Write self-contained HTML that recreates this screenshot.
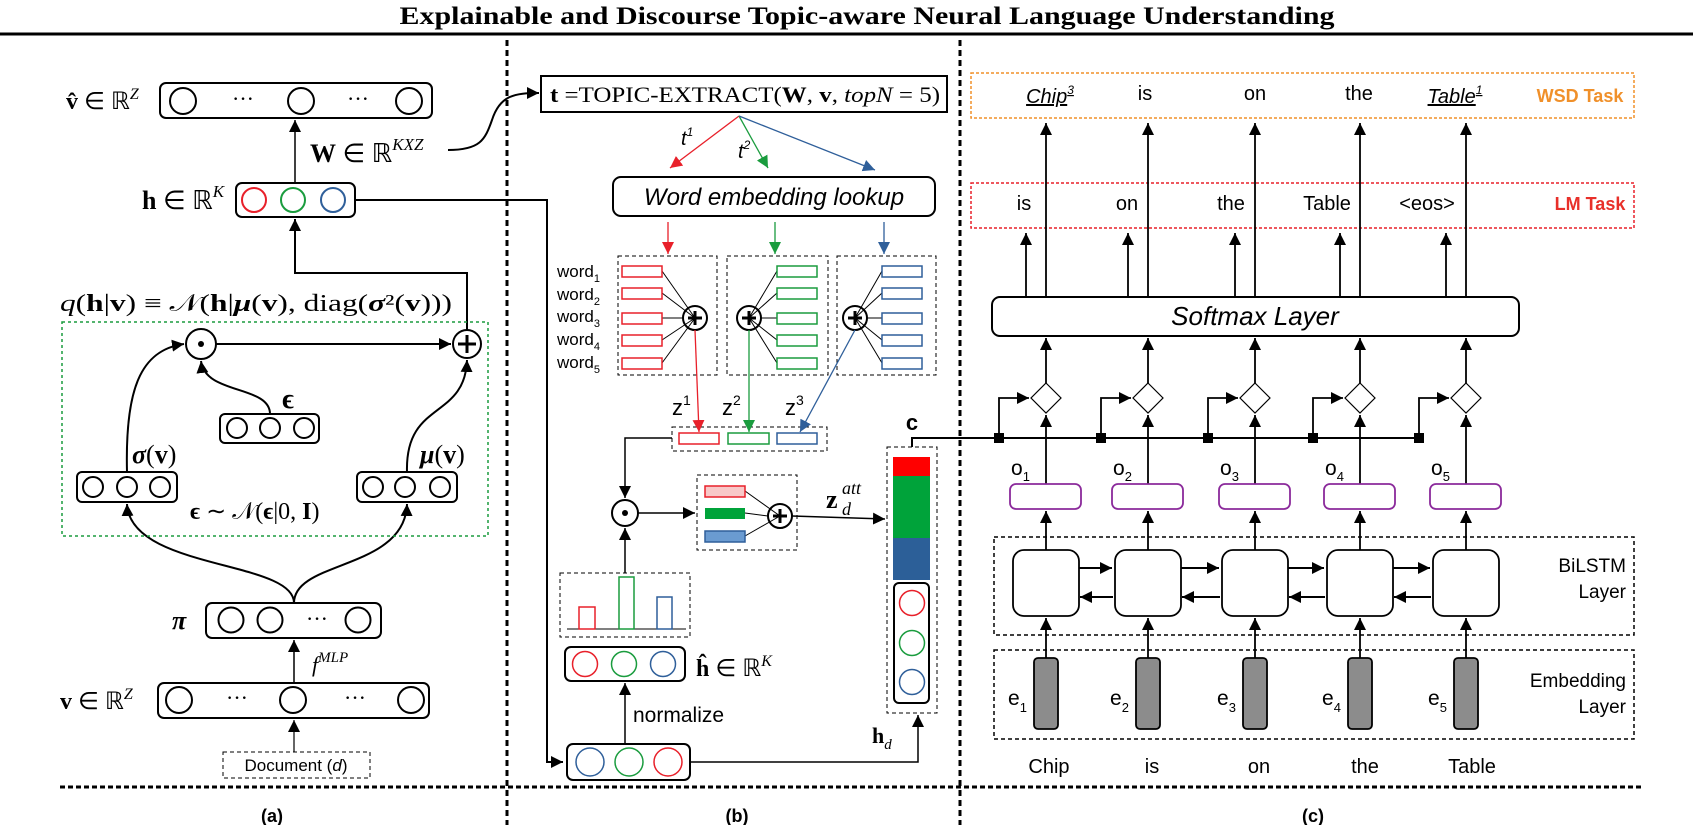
<!DOCTYPE html>
<html><head><meta charset="utf-8"><style>
html,body{margin:0;padding:0;background:#fff;}
svg{display:block;}
.s{font-family:"Liberation Sans",sans-serif;}
.r{font-family:"Liberation Serif",serif;}
</style></head><body>
<svg width="1693" height="825" viewBox="0 0 1693 825" xmlns="http://www.w3.org/2000/svg">
<defs>
<marker id="a" markerUnits="userSpaceOnUse" markerWidth="14" markerHeight="14" refX="12" refY="6" orient="auto"><path d="M0,0 L12,6 L0,12 z" fill="#000"/></marker>
<marker id="ar" markerUnits="userSpaceOnUse" markerWidth="14" markerHeight="14" refX="12" refY="6" orient="auto"><path d="M0,0 L12,6 L0,12 z" fill="#e8202a"/></marker>
<marker id="ag" markerUnits="userSpaceOnUse" markerWidth="14" markerHeight="14" refX="12" refY="6" orient="auto"><path d="M0,0 L12,6 L0,12 z" fill="#1a9c3e"/></marker>
<marker id="ab" markerUnits="userSpaceOnUse" markerWidth="14" markerHeight="14" refX="12" refY="6" orient="auto"><path d="M0,0 L12,6 L0,12 z" fill="#2f5f9a"/></marker>
</defs>

<text x="867" y="24" text-anchor="middle" class="r" font-weight="bold" font-size="25" textLength="935" lengthAdjust="spacingAndGlyphs">Explainable and Discourse Topic-aware Neural Language Understanding</text>
<line x1="0" y1="34" x2="1693" y2="34" stroke="#000" stroke-width="3"/>

<line x1="507" y1="40" x2="507" y2="825" stroke="#000" stroke-width="3" stroke-dasharray="6,4"/>
<line x1="960" y1="40" x2="960" y2="825" stroke="#000" stroke-width="3" stroke-dasharray="6,4"/>
<line x1="60" y1="787" x2="1642" y2="787" stroke="#000" stroke-width="3" stroke-dasharray="5,3"/>
<text x="272" y="822" text-anchor="middle" class="s" font-weight="bold" font-size="18">(a)</text>
<text x="737" y="822" text-anchor="middle" class="s" font-weight="bold" font-size="18">(b)</text>
<text x="1313" y="822" text-anchor="middle" class="s" font-weight="bold" font-size="18">(c)</text>

<g fill="none" stroke="#000" stroke-width="2">
<rect x="160" y="83" width="272" height="35" rx="6"/>
<circle cx="183" cy="101" r="13"/><circle cx="301" cy="101" r="13"/><circle cx="409" cy="101" r="13"/>
<rect x="236" y="183" width="119" height="34" rx="6"/>
<line x1="295" y1="183" x2="295" y2="120" stroke-width="1.5" marker-end="url(#a)"/>
<path d="M467,330 V273 H295 V219" marker-end="url(#a)"/>
<path d="M355,200 H547 V762 H563" marker-end="url(#a)"/>
<path d="M448,150 C480,150 485,140 492,120 C500,95 515,93 539,93" marker-end="url(#a)"/>
<circle cx="201" cy="344" r="15"/><circle cx="467" cy="344" r="14"/>
<line x1="216" y1="344" x2="451" y2="344" marker-end="url(#a)"/>
<rect x="220" y="414" width="99" height="29" rx="5"/>
<circle cx="237" cy="428" r="10"/><circle cx="270" cy="428" r="10"/><circle cx="304" cy="428" r="10"/>
<path d="M270,414 C270,385 205,395 201,361" marker-end="url(#a)"/>
<rect x="77" y="472" width="100" height="30" rx="5"/>
<circle cx="93" cy="487" r="10"/><circle cx="127" cy="487" r="10"/><circle cx="160" cy="487" r="10"/>
<path d="M127,472 C125,390 140,350 184,344" marker-end="url(#a)"/>
<rect x="357" y="472" width="100" height="30" rx="5"/>
<circle cx="373" cy="487" r="10"/><circle cx="405" cy="487" r="10"/><circle cx="440" cy="487" r="10"/>
<path d="M407,472 C405,400 465,420 467,360" marker-end="url(#a)"/>
<rect x="206" y="603" width="175" height="35" rx="6"/>
<circle cx="231" cy="620" r="12.5"/><circle cx="270" cy="620" r="12.5"/><circle cx="358" cy="620" r="12.5"/>
<path d="M294,603 C294,560 130,570 127,504" marker-end="url(#a)"/>
<path d="M294,603 C294,560 405,570 407,504" marker-end="url(#a)"/>
<rect x="158" y="683" width="271" height="35" rx="6"/>
<circle cx="179" cy="700" r="13"/><circle cx="293" cy="700" r="13"/><circle cx="411" cy="700" r="13"/>
<line x1="294" y1="683" x2="294" y2="640" stroke-width="1.5" marker-end="url(#a)"/>
<line x1="294" y1="752" x2="294" y2="720" stroke-width="1.2" marker-end="url(#a)"/>
<rect x="223" y="752" width="147" height="26" stroke-width="1" stroke-dasharray="4,3"/>
</g>
<rect x="62" y="322" width="426" height="214" fill="none" stroke="#1a9c3e" stroke-width="1.5" stroke-dasharray="3,3"/>
<circle cx="254" cy="200" r="12" fill="none" stroke="#e8202a" stroke-width="2"/>
<circle cx="293" cy="200" r="12" fill="none" stroke="#1a9c3e" stroke-width="2"/>
<circle cx="333" cy="200" r="12" fill="none" stroke="#2f5f9a" stroke-width="2"/>
<circle cx="201" cy="344" r="3" fill="#000"/>
<path d="M467,335 V353 M458,344 H476" stroke="#000" stroke-width="3"/>
<g font-size="22" class="r">
<text x="243" y="106" text-anchor="middle">···</text><text x="358" y="106" text-anchor="middle">···</text>
<text x="317" y="626" text-anchor="middle">···</text>
<text x="237" y="705" text-anchor="middle">···</text><text x="355" y="705" text-anchor="middle">···</text>
<text x="66" y="109" font-size="24"><tspan font-weight="bold">v̂</tspan> ∈ ℝ<tspan font-size="16" dy="-10" font-style="italic">Z</tspan></text>
<text x="310" y="162" font-size="26"><tspan font-weight="bold">W</tspan> ∈ ℝ<tspan font-size="17" dy="-12" font-style="italic">KXZ</tspan></text>
<text x="142" y="209" font-size="26"><tspan font-weight="bold">h</tspan> ∈ ℝ<tspan font-size="17" dy="-12" font-style="italic">K</tspan></text>
<text x="60" y="311" font-size="24" textLength="392" lengthAdjust="spacingAndGlyphs"><tspan font-style="italic">q</tspan>(<tspan font-weight="bold">h</tspan>|<tspan font-weight="bold">v</tspan>) ≡ 𝒩(<tspan font-weight="bold">h</tspan>|<tspan font-weight="bold" font-style="italic">μ</tspan>(<tspan font-weight="bold">v</tspan>), diag(<tspan font-weight="bold" font-style="italic">σ</tspan>²(<tspan font-weight="bold">v</tspan>)))</text>
<text x="288" y="408" text-anchor="middle" font-weight="bold" font-size="28">ϵ</text>
<text x="132" y="463" font-size="26"><tspan font-weight="bold" font-style="italic">σ</tspan>(<tspan font-weight="bold">v</tspan>)</text>
<text x="420" y="463" font-size="26"><tspan font-weight="bold" font-style="italic">μ</tspan>(<tspan font-weight="bold">v</tspan>)</text>
<text x="190" y="519" font-size="24"><tspan font-weight="bold">ϵ</tspan> ∼ 𝒩(<tspan font-weight="bold">ϵ</tspan>|0, <tspan font-weight="bold">I</tspan>)</text>
<text x="172" y="629" font-weight="bold" font-style="italic" font-size="26">π</text>
<text x="312" y="672" font-style="italic" font-size="22">f<tspan font-size="15" dy="-10">MLP</tspan></text>
<text x="60" y="709" font-size="24"><tspan font-weight="bold">v</tspan> ∈ ℝ<tspan font-size="16" dy="-10" font-style="italic">Z</tspan></text>
</g>
<text x="296" y="771" text-anchor="middle" class="s" font-size="17">Document (<tspan font-style="italic">d</tspan>)</text>

<g fill="none" stroke="#000" stroke-width="2">
<rect x="541" y="76" width="406" height="36"/>
<rect x="613" y="177" width="322" height="39" rx="8"/>
<g stroke-width="1" stroke-dasharray="4,3">
<rect x="618" y="256" width="99" height="119"/><rect x="727" y="256" width="101" height="119"/><rect x="837" y="256" width="99" height="119"/>
<rect x="672" y="427" width="155" height="24"/>
<rect x="560" y="573" width="130" height="64"/>
<rect x="697" y="475" width="100" height="75"/>
<rect x="887" y="447" width="50" height="266"/>
</g>
<circle cx="695" cy="318" r="12"/><circle cx="749" cy="318" r="12"/><circle cx="855" cy="318" r="12"/>
<circle cx="625" cy="513" r="13"/><circle cx="780" cy="516" r="12"/>
<path d="M672,438 H625 V498" stroke-width="1.5" marker-end="url(#a)"/>
<line x1="625" y1="573" x2="625" y2="528" stroke-width="1.5" marker-end="url(#a)"/>
<line x1="638" y1="513" x2="695" y2="513" stroke-width="1.5" marker-end="url(#a)"/>
<line x1="792" y1="516" x2="885" y2="519" stroke-width="1.5" marker-end="url(#a)"/>
<line x1="567" y1="629" x2="686" y2="629" stroke-width="1"/>
<rect x="565" y="647" width="120" height="34" rx="6"/>
<rect x="567" y="744" width="123" height="36" rx="6"/>
<line x1="625" y1="744" x2="625" y2="683" stroke-width="1.5" marker-end="url(#a)"/>
<path d="M690,762 H918 V715" stroke-width="1.5" marker-end="url(#a)"/>
<rect x="894" y="583" width="35" height="120" rx="5"/>
<path d="M912,447 V438 H1420" stroke-width="2"/>
</g>
<g stroke="#000" stroke-width="1">
<path d="M662,271 L695,318 M662,293 L695,318 M662,318 H683 M662,340 L695,318 M662,363 L695,318"/>
<path d="M777,271 L749,318 M777,293 L749,318 M761,318 H777 M777,340 L749,318 M777,363 L749,318"/>
<path d="M882,271 L855,318 M882,293 L855,318 M867,318 H882 M882,340 L855,318 M882,363 L855,318"/>
<path d="M745,491 L780,516 M745,513 L768,516 M745,536 L780,516"/>
</g>
<g stroke="#000" stroke-width="3">
<path d="M695,311 V325 M688,318 H702 M749,311 V325 M742,318 H756 M855,311 V325 M848,318 H862 M780,509 V523 M773,516 H787"/>
</g>
<circle cx="625" cy="513" r="3" fill="#000"/>
<line x1="739" y1="116" x2="670" y2="168" stroke="#e8202a" stroke-width="1.3" marker-end="url(#ar)"/>
<line x1="739" y1="116" x2="768" y2="168" stroke="#1a9c3e" stroke-width="1.3" marker-end="url(#ag)"/>
<line x1="739" y1="116" x2="875" y2="170" stroke="#2f5f9a" stroke-width="1.3" marker-end="url(#ab)"/>
<line x1="668" y1="222" x2="668" y2="254" stroke="#e8202a" stroke-width="1.3" marker-end="url(#ar)"/>
<line x1="775" y1="222" x2="775" y2="254" stroke="#1a9c3e" stroke-width="1.3" marker-end="url(#ag)"/>
<line x1="884" y1="222" x2="884" y2="254" stroke="#2f5f9a" stroke-width="1.3" marker-end="url(#ab)"/>
<line x1="695" y1="330" x2="699" y2="432" stroke="#e8202a" stroke-width="1.3" marker-end="url(#ar)"/>
<line x1="749" y1="330" x2="749" y2="432" stroke="#1a9c3e" stroke-width="1.3" marker-end="url(#ag)"/>
<line x1="855" y1="330" x2="800" y2="432" stroke="#2f5f9a" stroke-width="1.3" marker-end="url(#ab)"/>
<g fill="none" stroke-width="1.5">
<g stroke="#e8202a"><rect x="622" y="266" width="40" height="11"/><rect x="622" y="288" width="40" height="11"/><rect x="622" y="313" width="40" height="11"/><rect x="622" y="335" width="40" height="11"/><rect x="622" y="358" width="40" height="11"/><rect x="679" y="433" width="40" height="11"/><rect x="579" y="607" width="16" height="22"/><circle cx="585" cy="664" r="12.5"/><circle cx="668" cy="762" r="14"/><circle cx="912" cy="603" r="12.5"/></g>
<g stroke="#1a9c3e"><rect x="777" y="266" width="40" height="11"/><rect x="777" y="288" width="40" height="11"/><rect x="777" y="313" width="40" height="11"/><rect x="777" y="335" width="40" height="11"/><rect x="777" y="358" width="40" height="11"/><rect x="728" y="433" width="41" height="11"/><rect x="619" y="577" width="15" height="52"/><circle cx="624" cy="664" r="12.5"/><circle cx="629" cy="762" r="14"/><circle cx="912" cy="643" r="12.5"/></g>
<g stroke="#2f5f9a"><rect x="882" y="266" width="40" height="11"/><rect x="882" y="288" width="40" height="11"/><rect x="882" y="313" width="40" height="11"/><rect x="882" y="335" width="40" height="11"/><rect x="882" y="358" width="40" height="11"/><rect x="777" y="433" width="40" height="11"/><rect x="657" y="597" width="15" height="32"/><circle cx="663" cy="664" r="12.5"/><circle cx="590" cy="762" r="14"/><circle cx="912" cy="682" r="12.5"/></g>
</g>
<rect x="705" y="486" width="40" height="11" fill="#f8c8c8" stroke="#e8202a" stroke-width="1.5"/>
<rect x="705" y="508" width="40" height="11" fill="#00a33a"/>
<rect x="705" y="531" width="40" height="11" fill="#6a9bd1" stroke="#2f5f9a" stroke-width="1.5"/>
<rect x="893" y="457" width="37" height="19" fill="#ff0000"/>
<rect x="893" y="476" width="37" height="62" fill="#00a33a"/>
<rect x="893" y="538" width="37" height="42" fill="#2c5f98"/>

<text x="550" y="102" class="r" font-size="22" textLength="390" lengthAdjust="spacingAndGlyphs"><tspan font-weight="bold">t</tspan> =TOPIC-EXTRACT(<tspan font-weight="bold">W</tspan>, <tspan font-weight="bold">v</tspan>, <tspan font-style="italic">topN</tspan> = 5)</text>
<text x="681" y="145" class="s" font-style="italic" font-size="20">t<tspan font-size="12" dy="-9">1</tspan></text>
<text x="738" y="158" class="s" font-style="italic" font-size="20">t<tspan font-size="12" dy="-9">2</tspan></text>
<text x="774" y="205" text-anchor="middle" class="s" font-style="italic" font-size="24">Word embedding lookup</text>
<g class="s" font-size="17">
<text x="557" y="277">word<tspan font-size="11" dy="5">1</tspan></text>
<text x="557" y="300">word<tspan font-size="11" dy="5">2</tspan></text>
<text x="557" y="322">word<tspan font-size="11" dy="5">3</tspan></text>
<text x="557" y="345">word<tspan font-size="11" dy="5">4</tspan></text>
<text x="557" y="368">word<tspan font-size="11" dy="5">5</tspan></text>
</g>
<g class="s" font-size="22">
<text x="672" y="415">z<tspan font-size="14" dy="-10">1</tspan></text>
<text x="722" y="415">z<tspan font-size="14" dy="-10">2</tspan></text>
<text x="785" y="415">z<tspan font-size="14" dy="-10">3</tspan></text>
</g>
<text x="826" y="508" class="r" font-weight="bold" font-size="26">z</text>
<text x="842" y="494" class="r" font-style="italic" font-size="18">att</text>
<text x="842" y="515" class="r" font-style="italic" font-size="18">d</text>
<text x="696" y="676" class="r" font-size="24"><tspan font-weight="bold">ĥ</tspan> ∈ ℝ<tspan font-size="16" dy="-10" font-style="italic">K</tspan></text>
<text x="633" y="722" class="s" font-size="21">normalize</text>
<text x="872" y="743" class="r" font-weight="bold" font-size="22">h<tspan font-size="15" dy="6" font-style="italic" font-weight="normal">d</tspan></text>
<text x="912" y="430" text-anchor="middle" class="s" font-weight="bold" font-size="22">c</text>

<rect x="971" y="73" width="663" height="45" fill="none" stroke="#f0902a" stroke-width="1.5" stroke-dasharray="3,2"/>
<rect x="971" y="183" width="663" height="45" fill="none" stroke="#e8202a" stroke-width="1.5" stroke-dasharray="3,2"/>
<g class="s" font-size="20" text-anchor="middle">
<text x="1050" y="103" font-style="italic" text-decoration="underline">Chip<tspan font-size="12" dy="-9">3</tspan></text>
<text x="1145" y="100">is</text><text x="1255" y="100">on</text><text x="1359" y="100">the</text>
<text x="1455" y="103" font-style="italic" text-decoration="underline">Table<tspan font-size="12" dy="-9">1</tspan></text>
<text x="1580" y="102" font-weight="bold" fill="#f0902a" font-size="18">WSD Task</text>
<text x="1024" y="210">is</text><text x="1127" y="210">on</text><text x="1231" y="210">the</text><text x="1327" y="210">Table</text><text x="1427" y="210">&lt;eos&gt;</text>
<text x="1590" y="210" font-weight="bold" fill="#e8302a" font-size="18">LM Task</text>
</g>
<g fill="none" stroke="#000" stroke-width="2">
<rect x="992" y="297" width="527" height="39" rx="8"/>
<rect x="994" y="537" width="640" height="98" stroke-width="1.5" stroke-dasharray="4,3"/>
<rect x="994" y="650" width="640" height="89" stroke-width="1.5" stroke-dasharray="4,3"/>
</g>
<text x="1255" y="325" text-anchor="middle" class="s" font-style="italic" font-size="26">Softmax Layer</text>
<g class="s" font-size="19" text-anchor="end">
<text x="1626" y="572">BiLSTM</text><text x="1626" y="598">Layer</text>
<text x="1626" y="687">Embedding</text><text x="1626" y="713">Layer</text>
</g>
<g class="s" font-size="20" text-anchor="middle">
<text x="1049" y="773">Chip</text><text x="1152" y="773">is</text><text x="1259" y="773">on</text><text x="1365" y="773">the</text><text x="1472" y="773">Table</text>
</g>
<g stroke="#000" stroke-width="1.8" fill="none">
<g id="c1">
<line x1="1046" y1="297" x2="1046" y2="123" marker-end="url(#a)"/>
<line x1="1026" y1="297" x2="1026" y2="233" marker-end="url(#a)"/>
<line x1="1046" y1="383" x2="1046" y2="338" marker-end="url(#a)"/>
<path d="M1046,383 L1061,398 L1046,413 L1031,398 Z" stroke-width="1.2"/>
<path d="M999,438 V398 H1029" marker-end="url(#a)"/>
<line x1="1046" y1="484" x2="1046" y2="415" marker-end="url(#a)"/>
<rect x="1010" y="484" width="71" height="25" rx="6" stroke="#8b2a9b"/>
<line x1="1046" y1="550" x2="1046" y2="511" marker-end="url(#a)"/>
<rect x="1013" y="550" width="66" height="66" rx="11"/>
<line x1="1046" y1="658" x2="1046" y2="618" marker-end="url(#a)"/>
<rect x="1034" y="658" width="24" height="71" rx="4" fill="#8c8c8c"/>
</g>
<use href="#c1" x="102"/>
<use href="#c1" x="209"/>
<use href="#c1" x="314"/>
<use href="#c1" x="420"/>
<g stroke-width="2">
<line x1="1079" y1="568" x2="1112" y2="568" marker-end="url(#a)"/>
<line x1="1181" y1="568" x2="1219" y2="568" marker-end="url(#a)"/>
<line x1="1288" y1="568" x2="1324" y2="568" marker-end="url(#a)"/>
<line x1="1393" y1="568" x2="1430" y2="568" marker-end="url(#a)"/>
<line x1="1113" y1="597" x2="1080" y2="597" marker-end="url(#a)"/>
<line x1="1220" y1="597" x2="1182" y2="597" marker-end="url(#a)"/>
<line x1="1325" y1="597" x2="1289" y2="597" marker-end="url(#a)"/>
<line x1="1431" y1="597" x2="1394" y2="597" marker-end="url(#a)"/>
</g>
</g>
<g fill="#000">
<rect x="994" y="433" width="10" height="10"/><rect x="1096" y="433" width="10" height="10"/><rect x="1203" y="433" width="10" height="10"/><rect x="1308" y="433" width="10" height="10"/><rect x="1414" y="433" width="10" height="10"/>
</g>
<g class="s" font-size="21">
<text x="1011" y="475">o<tspan font-size="13" dy="6">1</tspan></text>
<text x="1113" y="475">o<tspan font-size="13" dy="6">2</tspan></text>
<text x="1220" y="475">o<tspan font-size="13" dy="6">3</tspan></text>
<text x="1325" y="475">o<tspan font-size="13" dy="6">4</tspan></text>
<text x="1431" y="475">o<tspan font-size="13" dy="6">5</tspan></text>
<text x="1008" y="705">e<tspan font-size="13" dy="7">1</tspan></text>
<text x="1110" y="705">e<tspan font-size="13" dy="7">2</tspan></text>
<text x="1217" y="705">e<tspan font-size="13" dy="7">3</tspan></text>
<text x="1322" y="705">e<tspan font-size="13" dy="7">4</tspan></text>
<text x="1428" y="705">e<tspan font-size="13" dy="7">5</tspan></text>
</g>
</svg>
</body></html>
